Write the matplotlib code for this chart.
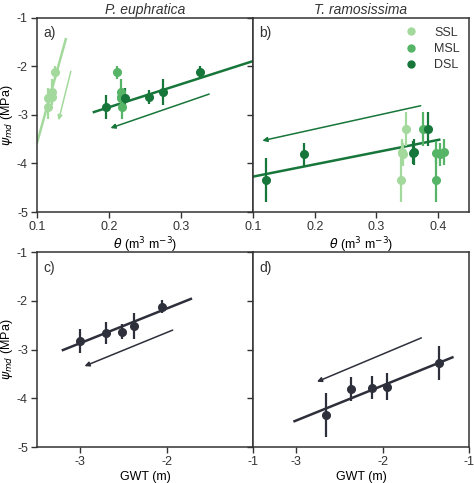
import matplotlib
matplotlib.use('Agg')
import matplotlib.pyplot as plt
from matplotlib.lines import Line2D

# water potential (MPa) and its error, shared by every layer of one species
pe_psi = [-2.83, -2.66, -2.63, -2.52, -2.12]
pe_err = [0.25, 0.22, 0.15, 0.27, 0.13]
tr_psi = [-4.34, -3.81, -3.78, -3.76, -3.28]
tr_err = [0.45, 0.24, 0.24, 0.27, 0.35]

# soil water content per layer (m3 m-3)
pe_ssl = [0.115, 0.116, 0.121, 0.121, 0.125]
pe_msl = [0.218, 0.217, 0.217, 0.217, 0.211]
pe_dsl = [0.196, 0.222, 0.255, 0.275, 0.326]
tr_ssl = [0.340, 0.344, 0.341, 0.342, 0.348]
tr_msl = [0.396, 0.403, 0.397, 0.410, 0.375]
tr_dsl = [0.121, 0.182, 0.359, 0.361, 0.383]

# groundwater table depth (m)
pe_gwt = [-3.0, -2.70, -2.52, -2.38, -2.05]
tr_gwt = [-2.66, -2.36, -2.12, -1.95, -1.35]

# fitted lines (x ends, y ends)
fit_a_ssl = ([0.100, 0.140], [-3.58, -1.44])
fit_a_dsl = ([0.179, 0.400], [-2.94, -1.89])
fit_b_dsl = ([0.100, 0.402], [-4.27, -3.51])
fit_c = ([-3.20, -1.72], [-3.01, -1.96])
fit_d = ([-3.02, -1.19], [-4.47, -3.16])

# trend arrows (start, end)
arr_a_ssl = ((0.147, -2.10), (0.130, -3.11))
arr_a_dsl = ((0.339, -2.57), (0.202, -3.27))
arr_b_dsl = ((0.372, -2.81), (0.115, -3.53))
arr_c = ((-1.93, -2.60), (-2.95, -3.34))
arr_d = ((-1.55, -2.76), (-2.76, -3.66))

layers = ['SSL', 'MSL', 'DSL']
c_ssl, c_msl, c_dsl = '#a3d99c', '#55b466', '#17763a'
c_dark = '#2d2f3b'
ink = '#333333'

plt.rcParams['font.family'] = 'Liberation Sans'
plt.rcParams['font.size'] = 9
plt.rcParams['axes.unicode_minus'] = False
plt.rcParams['axes.edgecolor'] = ink
plt.rcParams['axes.linewidth'] = 1.1
plt.rcParams['xtick.color'] = ink
plt.rcParams['ytick.color'] = ink
plt.rcParams['text.color'] = ink

fig = plt.figure(figsize=(4.74, 4.83), dpi=100)
ax_a = fig.add_axes([0.078, 0.561, 0.456, 0.402])
ax_b = fig.add_axes([0.534, 0.561, 0.455, 0.402])
ax_c = fig.add_axes([0.078, 0.0745, 0.456, 0.4035])
ax_d = fig.add_axes([0.534, 0.0745, 0.455, 0.4035])


def points(ax, x, y, err, color):
    ax.errorbar(x, y, yerr=err, fmt='o', color=color, ms=5.5, elinewidth=1.6,
                capsize=0, zorder=3)


def arrow(ax, a, color):
    ax.annotate('', xy=a[1], xytext=a[0],
                arrowprops=dict(arrowstyle='-|>', color=color, lw=1.1,
                                mutation_scale=7, shrinkA=0, shrinkB=0))


# a) P. euphratica vs soil water
points(ax_a, pe_ssl, pe_psi, pe_err, c_ssl)
points(ax_a, pe_msl, pe_psi, pe_err, c_msl)
points(ax_a, pe_dsl, pe_psi, pe_err, c_dsl)
ax_a.plot(*fit_a_ssl, color=c_ssl, lw=1.8)
ax_a.plot(*fit_a_dsl, color=c_dsl, lw=1.8)
arrow(ax_a, arr_a_ssl, c_ssl)
arrow(ax_a, arr_a_dsl, c_dsl)
ax_a.set_xlim(0.1, 0.4)
ax_a.set_xticks([0.1, 0.2, 0.3])

# b) T. ramosissima vs soil water
points(ax_b, tr_ssl, tr_psi, tr_err, c_ssl)
points(ax_b, tr_msl, tr_psi, tr_err, c_msl)
points(ax_b, tr_dsl, tr_psi, tr_err, c_dsl)
ax_b.plot(*fit_b_dsl, color=c_dsl, lw=1.8)
arrow(ax_b, arr_b_dsl, c_dsl)
ax_b.set_xlim(0.1, 0.45)
ax_b.set_xticks([0.1, 0.2, 0.3, 0.4])
handles = [Line2D([], [], ls='', marker='o', ms=5, color=c)
           for c in (c_ssl, c_msl, c_dsl)]
ax_b.legend(handles, layers, loc='upper right', frameon=False, fontsize=9,
            handletextpad=0.9, labelspacing=0.35, borderaxespad=0.3)

# c) and d) vs groundwater table
points(ax_c, pe_gwt, pe_psi, pe_err, c_dark)
ax_c.plot(*fit_c, color=c_dark, lw=1.8)
arrow(ax_c, arr_c, c_dark)
points(ax_d, tr_gwt, tr_psi, tr_err, c_dark)
ax_d.plot(*fit_d, color=c_dark, lw=1.8)
arrow(ax_d, arr_d, c_dark)
for ax in (ax_c, ax_d):
    ax.set_xlim(-3.5, -1)
    ax.set_xticks([-3, -2, -1])
    ax.set_xlabel('GWT (m)', fontsize=9, labelpad=2)

for ax in (ax_a, ax_b):
    ax.set_xlabel(r'$\theta$ (m$^3$ m$^{-3}$)', fontsize=9, labelpad=2)

for ax, lab in zip((ax_a, ax_b, ax_c, ax_d), ['a)', 'b)', 'c)', 'd)']):
    ax.set_ylim(-5, -1)
    ax.set_yticks([-5, -4, -3, -2, -1])
    ax.tick_params(direction='out', length=4.5, width=1, pad=2, labelsize=9)
    ax.text(0.03, 0.9, lab, transform=ax.transAxes, fontsize=10)

for ax in (ax_b, ax_d):
    ax.set_yticklabels([])
for ax in (ax_a, ax_c):
    ax.set_ylabel(r'$\psi_{md}$ (MPa)', fontsize=9)
    ax.yaxis.set_label_coords(-0.1, 0.5)

ax_a.set_title('P. euphratica', style='italic', fontsize=10, pad=3)
ax_b.set_title('T. ramosissima', style='italic', fontsize=10, pad=3)

fig.savefig('out.png', dpi=100)
